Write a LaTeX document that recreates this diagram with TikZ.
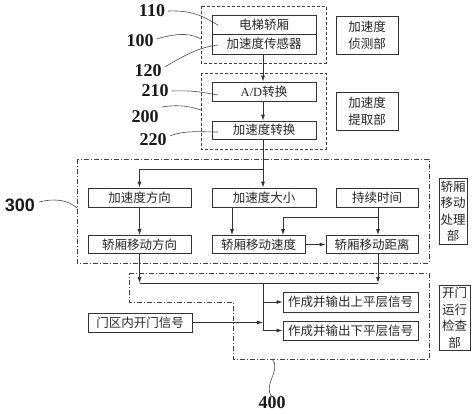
\documentclass[tikz,border=0pt]{standalone}
\usepackage{fontspec}
\setmainfont{Liberation Serif}
\newfontfamily\cjk{Noto Sans CJK SC}
\newfontfamily\numsans{Liberation Sans}
\newfontfamily\latinserif{Liberation Serif}
\usetikzlibrary{arrows.meta,calc}
\begin{document}
\begin{tikzpicture}[x=1pt,y=-1pt,
  line/.style={draw=black!80,line width=0.8pt},
  box/.style={line,rectangle,inner sep=0pt,font=\cjk\fontsize{12.5}{17}\selectfont,text=black!85,align=center},
  grp/.style={draw=black!75,line width=0.8pt,dash pattern=on 3pt off 2pt},
  grpdd/.style={draw=black!75,line width=0.8pt,dash pattern=on 5pt off 2pt on 1pt off 2pt},
  arr/.style={line,-{Latex[length=6pt,width=4pt]}},
  lead/.style={draw=black!70,line width=0.6pt},
  num/.style={font=\bfseries\fontsize{18}{18}\selectfont,text=black!90,inner sep=0pt},
  numsf/.style={font=\numsans\bfseries\fontsize{18}{18}\selectfont,text=black!90,inner sep=0pt}]
\useasboundingbox (0,0) rectangle (474,413);

% group frames
\draw[grp] (201,6) rectangle (326,63);
\draw[grp] (201,73) rectangle (326,149);
\draw[grpdd] (77,159) rectangle (429,263);
\draw[grpdd] (129,273) -- (429,273) -- (429,359) -- (233,359) -- (233,302) -- (129,302) -- cycle;

% boxes
\node[box,minimum width=104pt,minimum height=19pt] (car) at (264,24.5) {电梯轿厢};
\node[box,minimum width=104pt,minimum height=20pt] (sensor) at (264,44) {加速度传感器};
\node[box,minimum width=62pt,minimum height=38pt] (det) at (367,35) {加速度\\侦测部};
\node[box,minimum width=104pt,minimum height=19pt] (ad) at (264,91.5) {{\latinserif A/D}转换};
\node[box,minimum width=104pt,minimum height=18pt] (conv) at (264,130) {加速度转换};
\node[box,minimum width=62pt,minimum height=38pt] (ext) at (367,111) {加速度\\提取部};
\node[box,minimum width=103pt,minimum height=19pt] (dir) at (139.5,197.5) {加速度方向};
\node[box,minimum width=104pt,minimum height=19pt] (mag) at (264,197.5) {加速度大小};
\node[box,minimum width=82pt,minimum height=19pt] (dur) at (377,197.5) {持续时间};
\node[box,minimum width=103pt,minimum height=18pt] (mdir) at (139.5,244.5) {轿厢移动方向};
\node[box,minimum width=93pt,minimum height=18pt] (speed) at (258.5,244.5) {轿厢移动速度};
\node[box,minimum width=92pt,minimum height=18pt] (dist) at (372,244.5) {轿厢移动距离};
\node[box,minimum width=28pt,minimum height=66pt,font=\cjk\fontsize{12.5}{16.5}\selectfont] (proc) at (453,211) {轿厢\\移动\\处理\\部};
\node[box,minimum width=135pt,minimum height=20pt] (up) at (350.5,302) {作成并输出上平层信号};
\node[box,minimum width=135pt,minimum height=19pt] (down) at (350.5,330.5) {作成并输出下平层信号};
\node[box,minimum width=104pt,minimum height=19pt] (door) at (140,322.5) {门区内开门信号};
\node[box,minimum width=31pt,minimum height=65pt,font=\cjk\fontsize{12.5}{16.5}\selectfont] (chk) at (454.5,317.5) {开门\\运行\\检查\\部};

% helper coordinates
\coordinate (xa) at (232,0);
\coordinate (xb) at (283,0);
\coordinate (xc) at (378,0);
\coordinate (xm) at (263,0);
\coordinate (yb) at (0,217);
\coordinate (yc) at (0,169);
\coordinate (bus) at (0,283);
\coordinate (yu) at (0,302);
\coordinate (yd) at (0,330.5);

% connectors
\draw[arr] (sensor.south -| xm) -- (ad.north -| xm);
\draw[arr] (ad.south -| xm) -- (conv.north -| xm);
\draw[arr] (conv.south -| xm) -- (mag.north -| xm);
\draw[arr] (xm |- yc) -| (dir.north);
\draw[arr] (dir.south) -- (mdir.north);
\draw[arr] (mag.south -| xa) -- (speed.north -| xa);
\draw[arr] (dur.south -| xc) -- (dist.north -| xc);
\draw[arr] (xc |- yb) -| (speed.north -| xb);
\draw[arr] (speed.east) -- (dist.west);
\draw[arr] (mdir.south) -- (mdir.south |- bus);
\draw[arr] (dist.south -| xc) -- (xc |- bus);
\draw[line] (mdir.south |- bus) -- (xc |- bus);
\draw[line] (xm |- bus) -- (xm |- yd);
\draw[arr] (xm |- yu) -- (up.west);
\draw[arr] (xm |- yd) -- (down.west);
\draw[arr] (door.east) -- (xm |- door.east);

% reference numerals
\node[num] (n110) at (152,11) {110};
\node[num] (n100) at (140,41) {100};
\node[num] (n120) at (148,71) {120};
\node[num] (n210) at (155,91) {210};
\node[num] (n200) at (145,117) {200};
\node[num] (n220) at (153,140) {220};
\node[numsf] (n300) at (20,205) {300};
\node[num] (n400) at (272,403) {400};

\draw[lead] (n110.east) ++(3,0) .. controls (195,10) and (205,18) .. (218,25);
\draw[lead] (n100.east) ++(3,-2) .. controls (180,32) and (192,34) .. (201,39);
\draw[lead] (n120.east) ++(3,-4) .. controls (185,55) and (200,47) .. (218,45);
\draw[lead] (n210.east) ++(3,0) .. controls (195,90) and (205,93) .. (218,95);
\draw[lead] (n200.east) ++(3,-10) .. controls (180,104) and (192,107) .. (201,110);
\draw[lead] (n220.east) ++(3,-4) .. controls (185,130) and (200,132) .. (218,132);
\draw[lead] (n300.east) ++(4,-3) .. controls (55,198) and (68,200) .. (77,208);
\draw[lead] (272,359) .. controls (282,370) and (262,385) .. (n400.north);
\end{tikzpicture}
\end{document}
